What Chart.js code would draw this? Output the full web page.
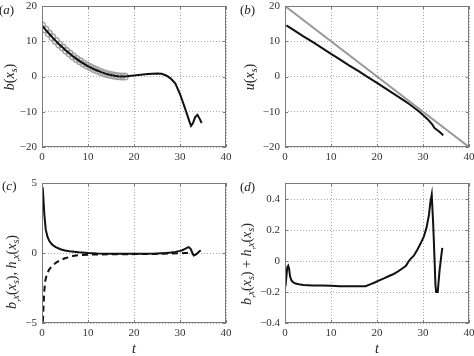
<!DOCTYPE html>
<html><head><meta charset="utf-8">
<script src="https://cdn.jsdelivr.net/npm/chart.js@4.4.1/dist/chart.umd.min.js"></script>
<style>
html,body{margin:0;padding:0;background:#fff;}
#wrap{position:relative;width:474px;height:356px;overflow:hidden;font-family:"Liberation Serif","Times New Roman",serif;color:#222;}
.pane{position:absolute;width:237px;height:178px;}
.lab{position:absolute;font-size:13px;white-space:nowrap;line-height:1;}
.ylab{position:absolute;font-size:14px;white-space:nowrap;line-height:1;transform:translate(-50%,-50%) rotate(-90deg);}
.xlab{position:absolute;font-size:14px;white-space:nowrap;line-height:1;transform:translate(-50%,-50%);font-style:italic;}
sub{font-size:72%;vertical-align:baseline;position:relative;top:0.32em;}
</style></head>
<body><div id="wrap">
<div class="pane" style="left:0;top:0"><canvas id="ca"></canvas></div>
<div class="pane" style="left:237px;top:0"><canvas id="cb"></canvas></div>
<div class="pane" style="left:0;top:178px"><canvas id="cc"></canvas></div>
<div class="pane" style="left:237px;top:178px"><canvas id="cd"></canvas></div>

<div class="lab" style="left:-1px;top:3px">(<i>a</i>)</div>
<div class="lab" style="left:240px;top:3px">(<i>b</i>)</div>
<div class="lab" style="left:2px;top:179px">(<i>c</i>)</div>
<div class="lab" style="left:240px;top:180px">(<i>d</i>)</div>

<div class="ylab" style="left:10px;top:77px"><i>b</i>(<i>x<sub>s</sub></i>)</div>
<div class="ylab" style="left:250px;top:77px"><i>u</i>(<i>x<sub>s</sub></i>)</div>
<div class="ylab" style="left:12px;top:272px"><i>b</i><sub>,<i>x</i></sub>(<i>x<sub>s</sub></i>), <i>h</i><sub>,<i>x</i></sub>(<i>x<sub>s</sub></i>)</div>
<div class="ylab" style="left:247px;top:264px"><i>b</i><sub>,<i>x</i></sub>(<i>x<sub>s</sub></i>) + <i>h</i><sub>,<i>x</i></sub>(<i>x<sub>s</sub></i>)</div>

<div class="xlab" style="left:134px;top:349px">t</div>
<div class="xlab" style="left:377px;top:349px">t</div>
</div>
<script>
// ---- data ----
const xTicks = [0, 10, 20, 30, 40];
const aYTicks = [-20, -10, 0, 10, 20];
const bYTicks = [-20, -10, 0, 10, 20];
const cYTicks = [-5, 0, 5];
const dYTicks = [-0.4, -0.2, 0, 0.2, 0.4];

// (a) marker points (grey circles)
const aMarkX = [0, 0.75, 1.5, 2.25, 3, 3.75, 4.5, 5.25, 6, 6.75, 7.5, 8.25, 9, 9.75, 10.5, 11.25, 12, 12.75, 13.5, 14.25, 15, 15.75, 16.5, 17.25, 18];
const aMarkY = [14.5, 13.3, 12.2, 11.1, 10.1, 9.1, 8.2, 7.3, 6.5, 5.7, 5.0, 4.3, 3.7, 3.1, 2.6, 2.1, 1.7, 1.3, 0.95, 0.65, 0.4, 0.2, 0.1, 0.03, 0.0];
// (a) continuation of black curve
const aTailX = [19, 20, 21, 22, 23, 24, 25, 26, 27, 28, 29, 30, 30.5, 31, 31.5, 32, 32.4, 32.8, 33.3, 33.8, 34.2, 34.7];
const aTailY = [0.15, 0.3, 0.45, 0.6, 0.7, 0.8, 0.85, 0.75, 0.3, -0.6, -2.0, -5.0, -6.8, -8.7, -10.6, -12.6, -14.0, -13.3, -11.5, -10.9, -11.8, -13.2];

// (b)
const bRefX = [0, 40];
const bRefY = [20, -20];
const bX = [0.3, 2, 4, 6, 8, 10, 12, 14, 16, 18, 20, 22, 24, 26, 27, 28, 29, 30, 31, 32, 32.5, 33, 33.5, 34, 34.4];
const bY = [14.5, 13.1, 11.4, 9.8, 8.1, 6.4, 4.8, 3.1, 1.5, -0.2, -1.8, -3.5, -5.2, -6.9, -7.8, -8.8, -9.8, -10.9, -12.1, -13.6, -14.6, -15.1, -15.6, -16.2, -16.7];

// (c)
const cX = [0.15, 0.3, 0.5, 0.8, 1.2, 1.6, 2, 2.5, 3, 4, 5, 6, 8, 10, 12, 15, 18, 20, 22, 25, 27, 28, 29, 30, 30.5, 31, 31.5, 31.9, 32.3, 32.7, 33.0, 33.5, 34, 34.5];
const cSolid = [4.7, 3.9, 2.8, 1.7, 1.15, 0.85, 0.68, 0.52, 0.42, 0.27, 0.18, 0.12, 0.05, 0.0, -0.03, -0.05, -0.06, -0.06, -0.05, -0.03, 0.0, 0.03, 0.08, 0.15, 0.2, 0.28, 0.36, 0.42, 0.3, 0.0, -0.18, -0.1, 0.05, 0.2];
const cDashX = [0.2, 0.35, 0.5, 0.7, 1, 1.5, 2, 2.5, 3, 4, 5, 6, 7, 8, 10, 15, 20, 25, 28, 30, 31, 32, 32.5, 33];
const cDash = [-4.9, -3.6, -2.7, -2.0, -1.6, -1.2, -1.0, -0.85, -0.7, -0.5, -0.38, -0.28, -0.2, -0.16, -0.12, -0.09, -0.08, -0.06, -0.04, -0.02, 0.0, 0.0, -0.05, -0.1];

// (d)
const dX = [0.1, 0.3, 0.5, 0.7, 0.9, 1.1, 1.4, 1.8, 2.3, 3, 4, 6, 8, 10, 12, 14, 16, 17.5, 18.5, 19.5, 20.5, 21.5, 22.5, 23.5, 24.5, 25.5, 26.3, 26.8, 27.3, 28, 28.8, 29.5, 30.2, 30.8, 31.3, 31.6, 31.9, 32.2, 32.5, 32.7, 32.85, 33.2, 33.6, 34.0, 34.2];
const dY = [-0.165, -0.1, -0.04, -0.03, -0.05, -0.1, -0.125, -0.138, -0.145, -0.15, -0.155, -0.157, -0.158, -0.16, -0.162, -0.163, -0.163, -0.162, -0.15, -0.138, -0.125, -0.112, -0.098, -0.085, -0.068, -0.048, -0.03, -0.005, 0.015, 0.035, 0.075, 0.115, 0.16, 0.22, 0.3, 0.38, 0.43, 0.25, 0.02, -0.15, -0.2, -0.2, -0.06, 0.04, 0.085];

// ---- helpers ----
const pts = (xs, ys) => xs.map((x, i) => ({ x: x, y: ys[i] }));
const fmt = v => (v < 0 ? '\u2212' : '') + Math.abs(v);
const FONT = { family: '"Liberation Serif", "Times New Roman", serif', size: 11 };

const framePlugin = {
  id: 'frame',
  afterDraw(chart) {
    const { ctx, chartArea: a, scales } = chart;
    ctx.save();
    ctx.strokeStyle = '#7a7a7a';
    ctx.lineWidth = 1;
    ctx.setLineDash([]);
    ctx.beginPath();
    const xs = scales.x, ys = scales.y;
    xs.ticks.forEach(t => {
      const p = Math.round(xs.getPixelForValue(t.value)) + 0.5;
      ctx.moveTo(p, a.bottom); ctx.lineTo(p, a.bottom - 3);
      ctx.moveTo(p, a.top); ctx.lineTo(p, a.top + 3);
    });
    ys.ticks.forEach(t => {
      const p = Math.round(ys.getPixelForValue(t.value)) + 0.5;
      ctx.moveTo(a.left, p); ctx.lineTo(a.left + 3, p);
      ctx.moveTo(a.right, p); ctx.lineTo(a.right - 3, p);
    });
    ctx.stroke();
    ctx.strokeRect(a.left + 0.5, a.top + 0.5, a.width - 1, a.height - 1);
    ctx.restore();
  }
};

function makeChart(id, datasets, yMin, yMax, yTicks, pad, yW, xH) {
  return new Chart(document.getElementById(id), {
    type: 'scatter',
    data: { datasets: datasets },
    plugins: [framePlugin],
    options: {
      responsive: true,
      maintainAspectRatio: false,
      animation: false,
      events: [],
      layout: { padding: pad },
      plugins: { legend: { display: false }, tooltip: { enabled: false } },
      scales: {
        x: {
          type: 'linear', min: 0, max: 40,
          afterBuildTicks: s => { s.ticks = xTicks.map(v => ({ value: v })); },
          afterFit: s => { s.height = xH; s.paddingLeft = 0; s.paddingRight = 0; },
          ticks: { font: FONT, color: '#333', padding: 4, maxRotation: 0, autoSkip: false, callback: fmt },
          grid: { color: '#a8a8a8', lineWidth: 1, drawTicks: false },
          border: { display: false, dash: [1, 2] }
        },
        y: {
          type: 'linear', min: yMin, max: yMax,
          afterBuildTicks: s => { s.ticks = yTicks.map(v => ({ value: v })); },
          afterFit: s => { s.width = yW; s.paddingTop = 0; s.paddingBottom = 0; },
          ticks: { font: FONT, color: '#333', padding: 5, autoSkip: false, callback: fmt },
          grid: { color: '#a8a8a8', lineWidth: 1, drawTicks: false },
          border: { display: false, dash: [1, 2] }
        }
      }
    }
  });
}

const line = (data, color, width, dash) => ({
  data: data, showLine: true, borderColor: color, borderWidth: width,
  borderDash: dash || [], pointRadius: 0, fill: false, tension: 0
});

// (a)
makeChart('ca', [
  line(pts(aMarkX.concat(aTailX), aMarkY.concat(aTailY)), '#111', 2),
  { data: pts(aMarkX, aMarkY), showLine: false, pointRadius: 3.3, pointBorderWidth: 1.4,
    pointBorderColor: '#a0a0a0', pointBackgroundColor: 'rgba(0,0,0,0)' }
], -20, 20, aYTicks, { top: 6, right: 11, left: 0, bottom: 0 }, 42, 31);

// (b)
makeChart('cb', [
  line(pts(bRefX, bRefY), '#999', 2),
  line(pts(bX, bY), '#111', 2)
], -20, 20, bYTicks, { top: 6, right: 5, left: 0, bottom: 0 }, 48, 31);

// (c)
makeChart('cc', [
  line(pts(cDashX, cDash), '#111', 2, [6, 4]),
  line(pts(cX, cSolid), '#111', 2)
], -5, 5, cYTicks, { top: 5, right: 11, left: 0, bottom: 0 }, 42, 33);

// (d)
makeChart('cd', [
  line(pts(dX, dY), '#111', 2)
], -0.4, 0.505, dYTicks, { top: 5, right: 5, left: 0, bottom: 0 }, 48, 33);
</script>
</body></html>
